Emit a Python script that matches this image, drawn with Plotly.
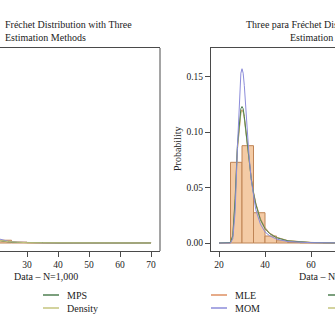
import plotly.graph_objects as go

# ---------------- data ----------------
# Left panel (two-parameter Fréchet), histogram bins of width 5
left_bin_centers = [2.5, 7.5, 12.5, 17.5, 22.5, 27.5, 32.5, 37.5, 42.5, 47.5, 52.5, 57.5, 62.5, 67.5]
left_hist = [0.14, 0.11, 0.03, 0.008, 0.0025, 0.0008, 0.0003, 0.0002, 0.0001, 0.0001, 0.0001, 0.0, 0.0, 0.0003]

left_x = [0, 1, 2, 3, 4, 5, 6, 8, 10, 12, 15, 18, 21, 24, 27, 30, 35, 40, 50, 60, 70]
left_mle = [0, 0.001, 0.04, 0.15, 0.18, 0.15, 0.115, 0.062, 0.034, 0.019, 0.009, 0.0045, 0.0024, 0.0011, 0.0006, 0.0003, 0.0002, 0.0001, 0.0001, 0.0, 0.0]
left_mom = [0, 0.002, 0.05, 0.17, 0.2, 0.16, 0.12, 0.065, 0.036, 0.021, 0.011, 0.0058, 0.0035, 0.0015, 0.0007, 0.0003, 0.0002, 0.0001, 0.0001, 0.0, 0.0]
left_mps = [0, 0.001, 0.035, 0.14, 0.175, 0.15, 0.116, 0.063, 0.034, 0.019, 0.009, 0.0044, 0.0022, 0.001, 0.0005, 0.0003, 0.0002, 0.0001, 0.0001, 0.0, 0.0]
left_dens = [0.01, 0.05, 0.11, 0.15, 0.16, 0.14, 0.11, 0.06, 0.033, 0.019, 0.009, 0.0046, 0.0025, 0.0012, 0.0006, 0.0003, 0.0002, 0.0001, 0.0001, 0.0, 0.0]

# Right panel (three-parameter Fréchet), histogram bins of width 5
right_bin_centers = [22.5, 27.5, 32.5, 37.5, 42.5, 47.5, 52.5, 57.5, 62.5, 67.5, 72.5, 77.5]
right_hist = [0.0, 0.0727, 0.0877, 0.0273, 0.0063, 0.0020, 0.0006, 0.0002, 0.0002, 0.0, 0.0001, 0.0]

right_x = [20, 25, 26, 27, 28, 29, 29.5, 30, 30.5, 31, 32, 33, 34, 35, 36, 38, 40, 42, 45, 50, 55, 60, 70, 90, 115]
right_mle = [0, 0.0004, 0.006, 0.037, 0.085, 0.113, 0.118, 0.120, 0.119, 0.113, 0.095, 0.076, 0.059, 0.046, 0.036, 0.022, 0.014, 0.009, 0.0052, 0.0021, 0.001, 0.0005, 0.0001, 0.0, 0.0]
right_mom = [0, 0.0, 0.004, 0.028, 0.086, 0.138, 0.153, 0.157, 0.153, 0.142, 0.110, 0.080, 0.057, 0.041, 0.030, 0.017, 0.010, 0.0065, 0.0035, 0.0013, 0.0006, 0.0003, 0.0001, 0.0, 0.0]
right_mps = [0, 0.0005, 0.007, 0.040, 0.088, 0.116, 0.121, 0.123, 0.121, 0.114, 0.095, 0.075, 0.058, 0.045, 0.035, 0.021, 0.013, 0.0085, 0.0048, 0.0019, 0.0009, 0.0004, 0.0001, 0.0, 0.0]
right_dens = [0, 0.0004, 0.006, 0.036, 0.084, 0.112, 0.117, 0.119, 0.118, 0.112, 0.094, 0.075, 0.058, 0.045, 0.035, 0.021, 0.013, 0.0085, 0.005, 0.002, 0.001, 0.0005, 0.0001, 0.0, 0.0]

series_names = ["MLE", "MOM", "MPS", "Density"]
y_tickvals = [0, 0.05, 0.10, 0.15]
y_ticktext = ["0.00", "0.05", "0.10", "0.15"]
left_xticks = [0, 10, 20, 30, 40, 50, 60, 70]
right_xticks = [20, 40, 60, 80, 100]

# ---------------- style ----------------
W = H = 335
colors = {"MLE": "#DE8F62", "MOM": "#8C8CDA", "MPS": "#4F7F52", "Density": "#C4C47E"}
bar_fill = "#F4CBA5"
bar_edge = "#BF8455"
axis_col = "#4a4a4a"
FONT = "Liberation Serif"

def px(xp):
    return xp / W

def py(yp):
    return (H - yp) / H

fig = go.Figure()

# Left panel
fig.add_trace(go.Bar(x=left_bin_centers, y=left_hist, width=5,
                     marker=dict(color=bar_fill, line=dict(color=bar_edge, width=1)),
                     xaxis="x", yaxis="y", showlegend=False))
for name, ys in zip(series_names, [left_mle, left_mom, left_mps, left_dens]):
    fig.add_trace(go.Scatter(x=left_x, y=ys, mode="lines", name=name,
                             line=dict(color=colors[name], width=1.0),
                             xaxis="x", yaxis="y", showlegend=False))

# Right panel
fig.add_trace(go.Bar(x=right_bin_centers, y=right_hist, width=5,
                     marker=dict(color=bar_fill, line=dict(color=bar_edge, width=1)),
                     xaxis="x2", yaxis="y2", showlegend=False))
for name, ys in zip(["MLE", "Density", "MPS", "MOM"], [right_mle, right_dens, right_mps, right_mom]):
    fig.add_trace(go.Scatter(x=right_x, y=ys, mode="lines", name=name,
                             line=dict(color=colors[name], width=1.0),
                             xaxis="x2", yaxis="y2", showlegend=False))

ydom = [py(251), py(48)]
yrange = [-0.0072, 0.1757]
common_ax = dict(showgrid=False, zeroline=False, linecolor=axis_col, linewidth=1,
                 ticks="outside", ticklen=5, tickcolor=axis_col, tickwidth=1,
                 tickfont=dict(family=FONT, size=9.5, color="#222"))

fig.update_layout(
    width=W, height=H, margin=dict(l=0, r=0, t=0, b=0),
    paper_bgcolor="white", plot_bgcolor="white",
    barmode="overlay", showlegend=False,
    font=dict(family=FONT, size=10, color="#222"),
    xaxis=dict(domain=[0, px(160)], range=[21.29, 72.9], showline=True, mirror=True,
               tickvals=left_xticks, anchor="y", **common_ax),
    yaxis=dict(domain=ydom, range=yrange, showline=False, showticklabels=False,
               showgrid=False, zeroline=False, ticks="", anchor="x"),
    xaxis2=dict(domain=[px(211), 1], range=[16.52, 70.43], showline=True, mirror=True,
                tickvals=right_xticks, anchor="y2", **common_ax),
    yaxis2=dict(domain=ydom, range=yrange, showline=True, tickvals=y_tickvals,
                ticktext=y_ticktext, anchor="x2", **common_ax),
)

# right border of the left panel
fig.add_shape(type="line", xref="paper", yref="paper", x0=px(160), x1=px(160),
              y0=ydom[0], y1=ydom[1], line=dict(color=axis_col, width=1))

def text(x, y, s, size=10, xanchor="left", angle=0):
    fig.add_annotation(xref="paper", yref="paper", x=px(x), y=py(y), text=s,
                       showarrow=False, xanchor=xanchor, yanchor="middle",
                       textangle=angle, font=dict(family=FONT, size=size, color="#222"))

# titles
text(3, 25, "Fréchet Distribution with Three")
text(3, 37, "Estimation Methods")
text(244, 25, "Three para Fréchet Distribution with Three")
text(288, 37, "Estimation Methods")

# x-axis titles
text(12, 276, "Data – N=1,000")
text(297, 276, "Data – N=1,000")

# y-axis title (right panel)
text(177, 149, "Probability", angle=-90, xanchor="center")

# legends (manual, two columns per panel)
def legend_item(xline, y, name):
    fig.add_shape(type="line", xref="paper", yref="paper",
                  x0=px(xline), x1=px(xline + 16), y0=py(y), y1=py(y),
                  line=dict(color=colors[name], width=1.5))
    text(xline + 22, y, name)

for base in (43 - 117, 211):
    legend_item(base, 295, "MLE")
    legend_item(base, 308, "MOM")
    legend_item(base + 117, 295, "MPS")
    legend_item(base + 117, 308, "Density")

fig.write_html("out.html")
